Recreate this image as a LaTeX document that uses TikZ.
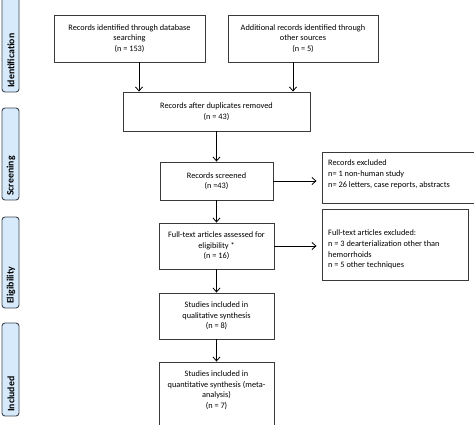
\documentclass[tikz,border=0pt]{standalone}
\usepackage{fontspec}
\setmainfont{Carlito}
\usetikzlibrary{arrows.meta,calc}
\definecolor{phasefill}{HTML}{D6EAFB}
\definecolor{phaseline}{HTML}{3E4650}
\definecolor{boxline}{HTML}{3A3A3A}
\tikzset{
  box/.style={draw=boxline, line width=0.9pt, inner sep=0pt, align=center,
    font=\fontsize{8.3}{10.5}\selectfont},
  txt/.style={inner sep=0pt, align=left, font=\fontsize{8.3}{10.8}\selectfont},
  phase/.style={draw=phaseline, fill=phasefill, line width=0.9pt, rounded corners=3pt},
  phaselbl/.style={rotate=90, anchor=west, inner sep=0pt, font=\fontsize{9.8}{10}\selectfont\bfseries},
  arr/.style={draw=black, line width=0.8pt, -{Straight Barb[length=4pt,width=7pt]}}
}
\begin{document}
\begin{tikzpicture}[x=1pt,y=-1pt]
\useasboundingbox (0,0) rectangle (474,424);
\clip (0,0) rectangle (474,424);
% phase bars
\draw[phase] (2,-4) rectangle (19,92);
\node[phaselbl] (p1) at (11,88) {Identification};
\draw[phase] (2,108) rectangle (19,200);
\node[phaselbl] (p2) at (11,196) {Screening};
\draw[phase] (2,217) rectangle (19,308);
\node[phaselbl] (p3) at (11,304) {Eligibility};
\draw[phase] (2,323) rectangle (19,416);
\node[phaselbl] (p4) at (11,412) {Included};
% main boxes
\node[box, minimum width=151pt, minimum height=47pt] (A) at (129.5,38.5)
  {Records identified through database\\searching\\(n = 153)};
\node[box, minimum width=150pt, minimum height=47pt] (B) at (303,38.5)
  {Additional records identified through\\other sources\\(n = 5)};
\node[box, minimum width=187pt, minimum height=39pt] (C) at (216.5,111.5)
  {Records after duplicates removed\\(n = 43)};
\node[box, minimum width=113pt, minimum height=38pt] (D) at (216.5,181)
  {Records screened\\(n =43)};
\node[box, minimum width=160pt, minimum height=51pt] (E) at (402,177.5) {};
\node[txt, anchor=west] (Et) at (328,174)
  {Records excluded\\n= 1 non-human study\\n= 26 letters, case reports, abstracts};
\node[box, minimum width=115pt, minimum height=46pt] (F) at (216.5,246)
  {Full-text articles assessed for\\eligibility *\\(n = 16)};
\node[box, minimum width=146pt, minimum height=71pt] (G) at (395,244.5) {};
\node[txt, anchor=west] (Gt) at (328,249.5)
  {Full-text articles excluded:\\n = 3 dearterialization other than\\hemorrhoids\\n = 5 other techniques};
\node[box, minimum width=115pt, minimum height=46pt] (H) at (216.5,316)
  {Studies included in\\qualitative synthesis\\(n = 8)};
\node[box, minimum width=115pt, minimum height=80pt] (I) at (216.5,402) {};
\node[box, draw=none] (It) at (216.5,390)
  {Studies included in\\quantitative synthesis (meta-\\analysis)\\(n = 7)};
% connectors
\draw[arr] ([xshift=9.5pt]A.south) -- ([xshift=9.5pt]A.south |- C.north);
\draw[arr] ([xshift=-10pt]B.south) -- ([xshift=-10pt]B.south |- C.north);
\draw[arr] (C) -- (D);
\draw[arr, shorten >=5pt] (D.east) -- (D.east -| E.west);
\draw[arr] (D) -- (F);
\draw[arr, shorten >=5pt] (F.east) -- (F.east -| G.west);
\draw[arr] (F) -- (H);
\draw[arr] (H) -- (I.north);
\end{tikzpicture}
\end{document}
